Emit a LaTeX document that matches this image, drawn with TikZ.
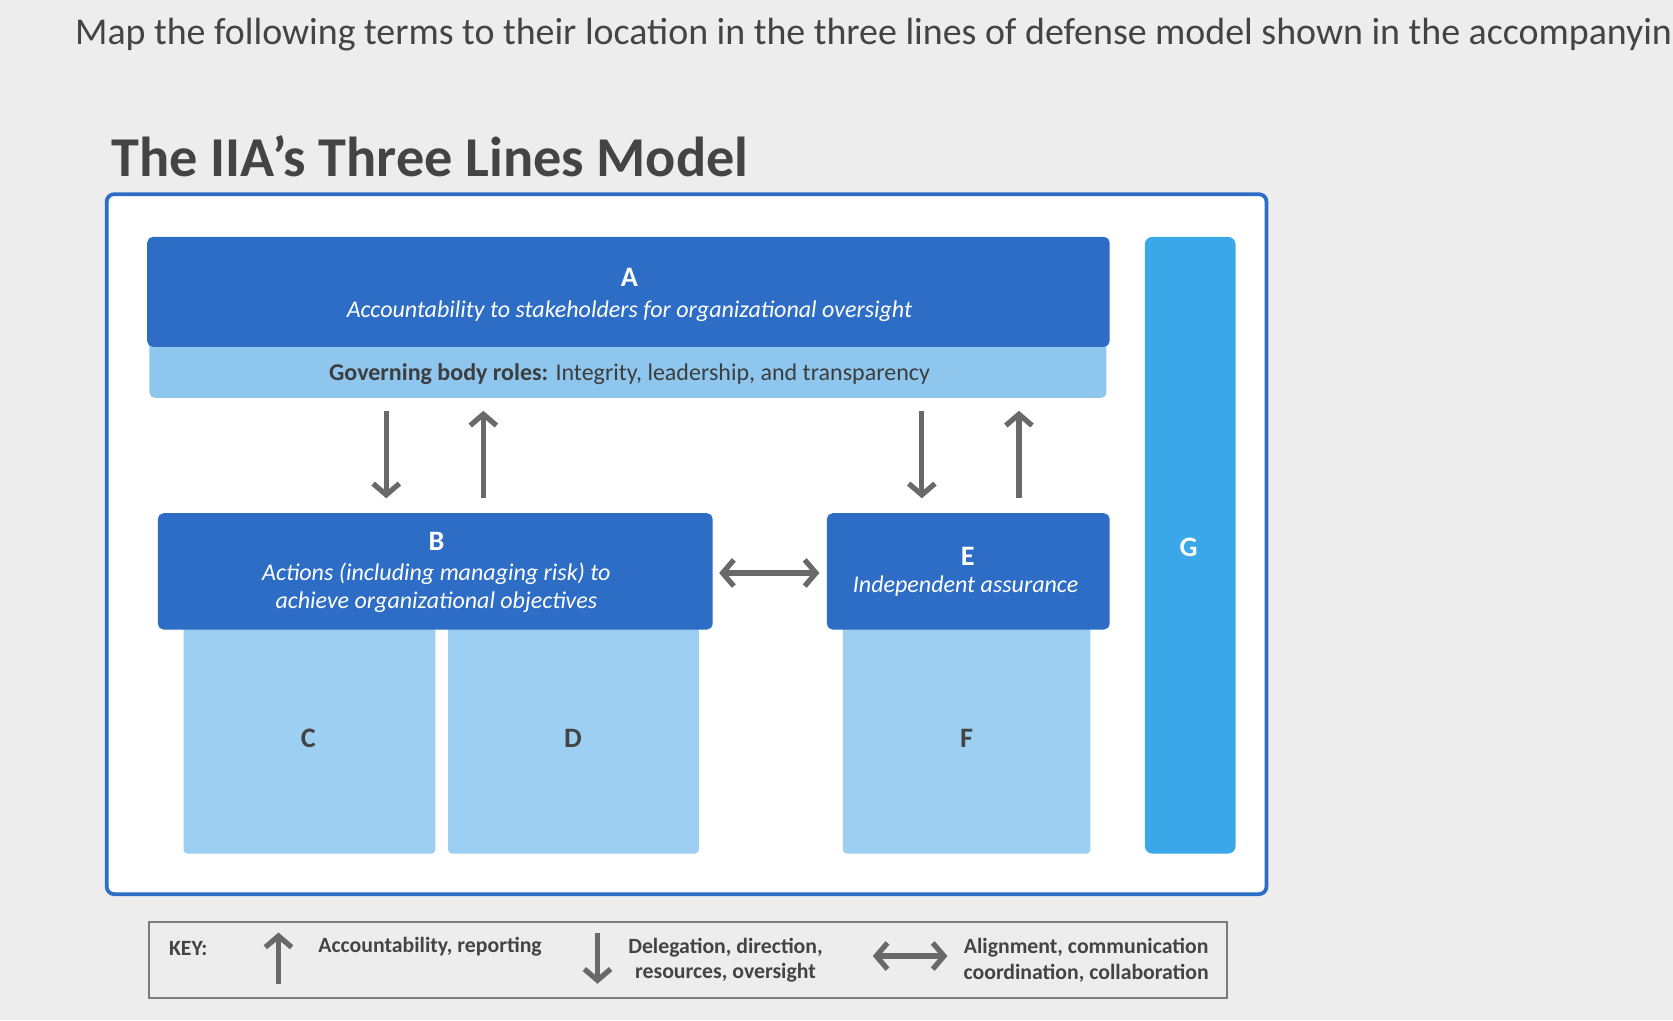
\documentclass[tikz,border=0pt]{standalone}
\usepackage{fontspec}
\setmainfont{Carlito}
\usetikzlibrary{arrows.meta}
\definecolor{dk}{HTML}{2E6DC6}
\definecolor{lt}{HTML}{9CCFF2}
\definecolor{band}{HTML}{8EC6EE}
\definecolor{gg}{HTML}{3AA8E8}
\definecolor{bg}{HTML}{EDEDED}
\definecolor{tx}{HTML}{444444}
\begin{document}
\begin{tikzpicture}[x=0.01cm,y=-0.01cm,
  dkbox/.style={fill=dk,rounded corners=1.5pt},
  ltbox/.style={fill=lt,rounded corners=1pt},
  arr/.style={line width=1.4pt,draw=tx!80,-{Straight Barb[length=3pt,width=7pt]}},
  darr/.style={line width=1.4pt,draw=tx!80,{Straight Barb[length=3pt,width=7pt]}-{Straight Barb[length=3pt,width=7pt]}},
  wt/.style={text=white,font=\itshape\fontsize{6.4}{7.4}\selectfont,align=center},
  lab/.style={font=\bfseries\fontsize{7.5}{8}\selectfont},
  keyt/.style={text=tx,font=\bfseries\fontsize{5.8}{6.8}\selectfont,align=center}]
\fill[bg] (0,0) rectangle (1568,956);
\useasboundingbox (0,0) rectangle (1568,956);
\node[anchor=west,text=tx,font=\fontsize{10.1}{11}\selectfont] (q) at (58,32) {Map the following terms to their location in the three lines of defense model shown in the accompanyin};
\node[anchor=west,text=tx,font=\bfseries\fontsize{15}{16}\selectfont] (title) at (92,146) {The IIA’s Three Lines Model};
\draw[dk,line width=1pt,fill=white,rounded corners=2pt] (100,182) rectangle (1187,838);
\fill[band,rounded corners=1.5pt] (140,300) rectangle (1037,373);
\fill[dkbox] (138,222) rectangle (1040,325);
\node[text=white,lab] (Al) at (590,260) {A};
\node[wt] (At) at (590,292) {Accountability to stakeholders for organizational oversight};
\node[text=tx!90!black,font=\fontsize{6.4}{7.4}\selectfont] (gov) at (590,351) {\textbf{Governing body roles:} Integrity, leadership, and transparency};
\coordinate (a1) at (362,385); \coordinate (a2) at (362,467);
\coordinate (a3) at (453,467); \coordinate (a4) at (453,385);
\coordinate (a5) at (864,385); \coordinate (a6) at (864,467);
\coordinate (a7) at (955,467); \coordinate (a8) at (955,385);
\draw[arr] (a1) -- (a2); \draw[arr] (a3) -- (a4);
\draw[arr] (a5) -- (a6); \draw[arr] (a7) -- (a8);
\fill[ltbox] (172,580) rectangle (408,800);
\fill[ltbox] (420,580) rectangle (655,800);
\fill[ltbox] (790,580) rectangle (1022,800);
\fill[dkbox] (148,481) rectangle (668,590);
\fill[dkbox] (775,481) rectangle (1040,590);
\fill[gg,rounded corners=2pt] (1073,222) rectangle (1158,800);
\node[text=white,lab] (B) at (409,507) {B};
\node[wt] (Bt) at (409,551) {Actions (including managing risk) to\\achieve organizational objectives};
\node[text=white,lab] (E) at (907,521) {E};
\node[wt] (Et) at (905,549) {Independent assurance};
\node[text=white,lab] (G) at (1114,513) {G};
\node[text=tx,lab] (C) at (289,692) {C};
\node[text=tx,lab] (D) at (537,692) {D};
\node[text=tx,lab] (F) at (906,692) {F};
\coordinate (h1) at (674,537); \coordinate (h2) at (768,537);
\draw[darr] (h1) -- (h2);
\draw[tx!70,line width=0.5pt] (140,864) rectangle (1150,935);
\node[keyt,anchor=west] (key) at (146,889) {KEY:};
\coordinate (k1) at (261,922); \coordinate (k2) at (261,874);
\draw[arr] (k1) -- (k2);
\node[keyt,anchor=west] (kt1) at (286,887) {Accountability, reporting};
\coordinate (k3) at (560,874); \coordinate (k4) at (560,922);
\draw[arr] (k3) -- (k4);
\node[keyt] (kt2) at (680,900) {Delegation, direction,\\resources, oversight};
\coordinate (k5) at (818,896); \coordinate (k6) at (888,896);
\draw[darr] (k5) -- (k6);
\node[keyt] (kt3) at (1018,900) {Alignment, communication\\coordination, collaboration};
\end{tikzpicture}
\end{document}
